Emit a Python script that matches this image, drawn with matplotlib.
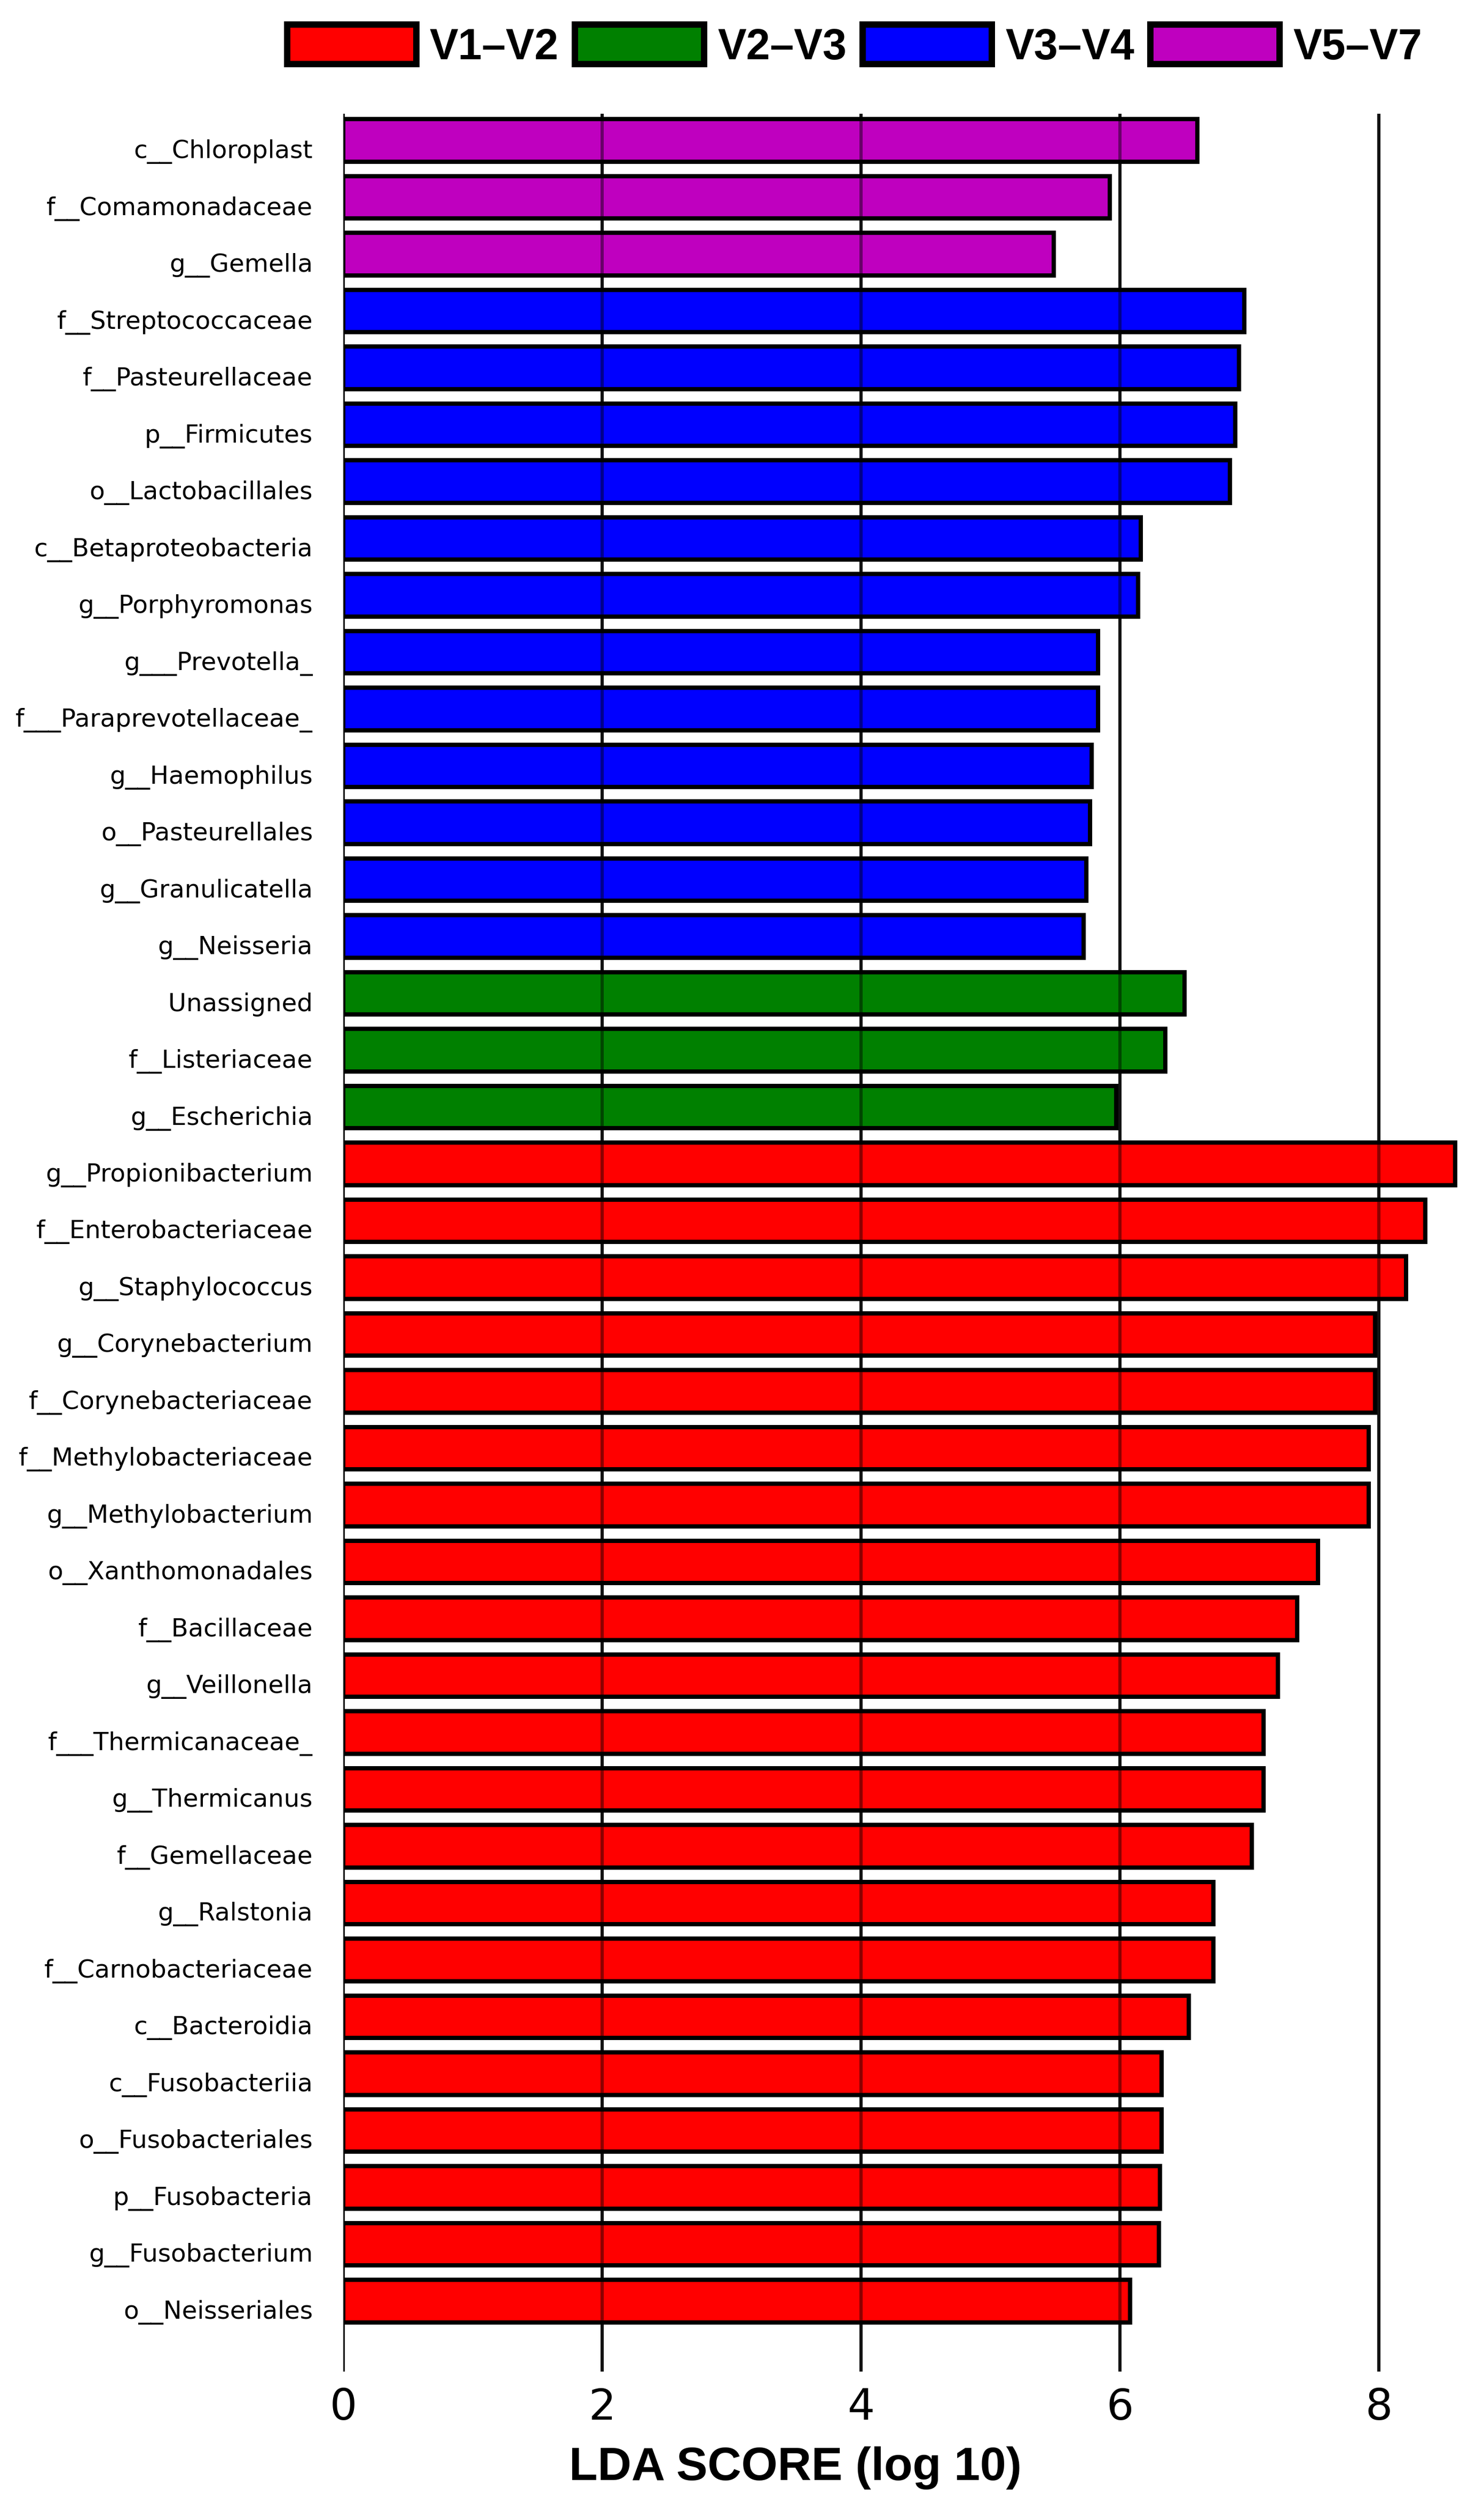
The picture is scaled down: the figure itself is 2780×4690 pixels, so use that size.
import matplotlib
matplotlib.use("Agg")
import matplotlib.pyplot as plt
from matplotlib.patches import Patch
from matplotlib.transforms import ScaledTranslation
import numpy as np

# taxa, top to bottom as in the chart
taxa = [
    "c__Chloroplast", "f__Comamonadaceae", "g__Gemella",
    "f__Streptococcaceae", "f__Pasteurellaceae", "p__Firmicutes",
    "o__Lactobacillales", "c__Betaproteobacteria", "g__Porphyromonas",
    "g___Prevotella_", "f___Paraprevotellaceae_", "g__Haemophilus",
    "o__Pasteurellales", "g__Granulicatella", "g__Neisseria",
    "Unassigned", "f__Listeriaceae", "g__Escherichia",
    "g__Propionibacterium", "f__Enterobacteriaceae", "g__Staphylococcus",
    "g__Corynebacterium", "f__Corynebacteriaceae", "f__Methylobacteriaceae",
    "g__Methylobacterium", "o__Xanthomonadales", "f__Bacillaceae",
    "g__Veillonella", "f___Thermicanaceae_", "g__Thermicanus",
    "f__Gemellaceae", "g__Ralstonia", "f__Carnobacteriaceae",
    "c__Bacteroidia", "c__Fusobacteriia", "o__Fusobacteriales",
    "p__Fusobacteria", "g__Fusobacterium", "o__Neisseriales",
]
lda = [
    6.60, 5.92, 5.49,
    6.96, 6.92, 6.89,
    6.85, 6.16, 6.14,
    5.83, 5.83, 5.78,
    5.77, 5.74, 5.72,
    6.50, 6.35, 5.97,
    8.59, 8.36, 8.21,
    7.97, 7.97, 7.92,
    7.92, 7.53, 7.37,
    7.22, 7.11, 7.11,
    7.02, 6.72, 6.72,
    6.53, 6.32, 6.32,
    6.31, 6.30, 6.08,
]
group = (["V5–V7"] * 3 + ["V3–V4"] * 12 + ["V2–V3"] * 3 + ["V1–V2"] * 21)

legend_order = ["V1–V2", "V2–V3", "V3–V4", "V5–V7"]
group_colors = {"V1–V2": "#FF0000", "V2–V3": "#008000",
                "V3–V4": "#0000FF", "V5–V7": "#BF00BF"}
xticks = [0, 2, 4, 6, 8]

W, H = 2780, 4690
fig = plt.figure(figsize=(W / 100, H / 100), dpi=100)
left, right, top, bottom = 643, 2760, 213, 4442
ax = fig.add_axes([left / W, 1 - bottom / H, (right - left) / W, (bottom - top) / H])

ypos = np.arange(len(taxa))
ax.barh(ypos, lda, height=0.75, color=[group_colors[g] for g in group],
        edgecolor="black", linewidth=5.8, zorder=2)

ax.set_xlim(0, 8.73)
ax.set_ylim(39.24, -0.47)
for s in ax.spines.values():
    s.set_visible(False)

# grid below bars, plus a translucent copy on top of them
ax.set_xticks(xticks)
ax.set_axisbelow(True)
ax.grid(axis="x", color="#222222", linewidth=4.3)
ax.grid(axis="y", visible=False)
for t in xticks:
    ax.axvline(t, color="black", alpha=0.45, linewidth=4.3, zorder=3)

ax.set_yticks(ypos)
ax.set_yticklabels(taxa, fontsize=33.5, family="DejaVu Sans", va="baseline")
ax.tick_params(axis="y", length=0, pad=41)
shift = ScaledTranslation(0, -33 / 100, fig.dpi_scale_trans)
for lab in ax.get_yticklabels():
    lab.set_transform(lab.get_transform() + shift)

ax.set_xticklabels([str(t) for t in xticks], fontsize=58, family="DejaVu Sans")
ax.tick_params(axis="x", length=0, pad=21)

ax.set_xlabel("LDA SCORE (log 10)", fontsize=63, fontweight="bold",
              family="Liberation Sans", va="baseline")
ax.xaxis.set_label_coords((1490 - left) / (right - left), -(4645 - bottom) / (bottom - top))

handles = [Patch(facecolor=group_colors[g], edgecolor="black", linewidth=8.6)
           for g in legend_order]
leg = fig.legend(handles, legend_order, loc="center", ncol=4,
                 bbox_to_anchor=(1601 / W, 1 - 87 / H), frameon=False,
                 prop={"family": "Liberation Sans", "weight": "bold", "size": 58},
                 handlelength=3.0, handleheight=1.03, handletextpad=0.31,
                 columnspacing=0.38, borderpad=0, borderaxespad=0)

fig.savefig("out.png", dpi=100, facecolor="white")
